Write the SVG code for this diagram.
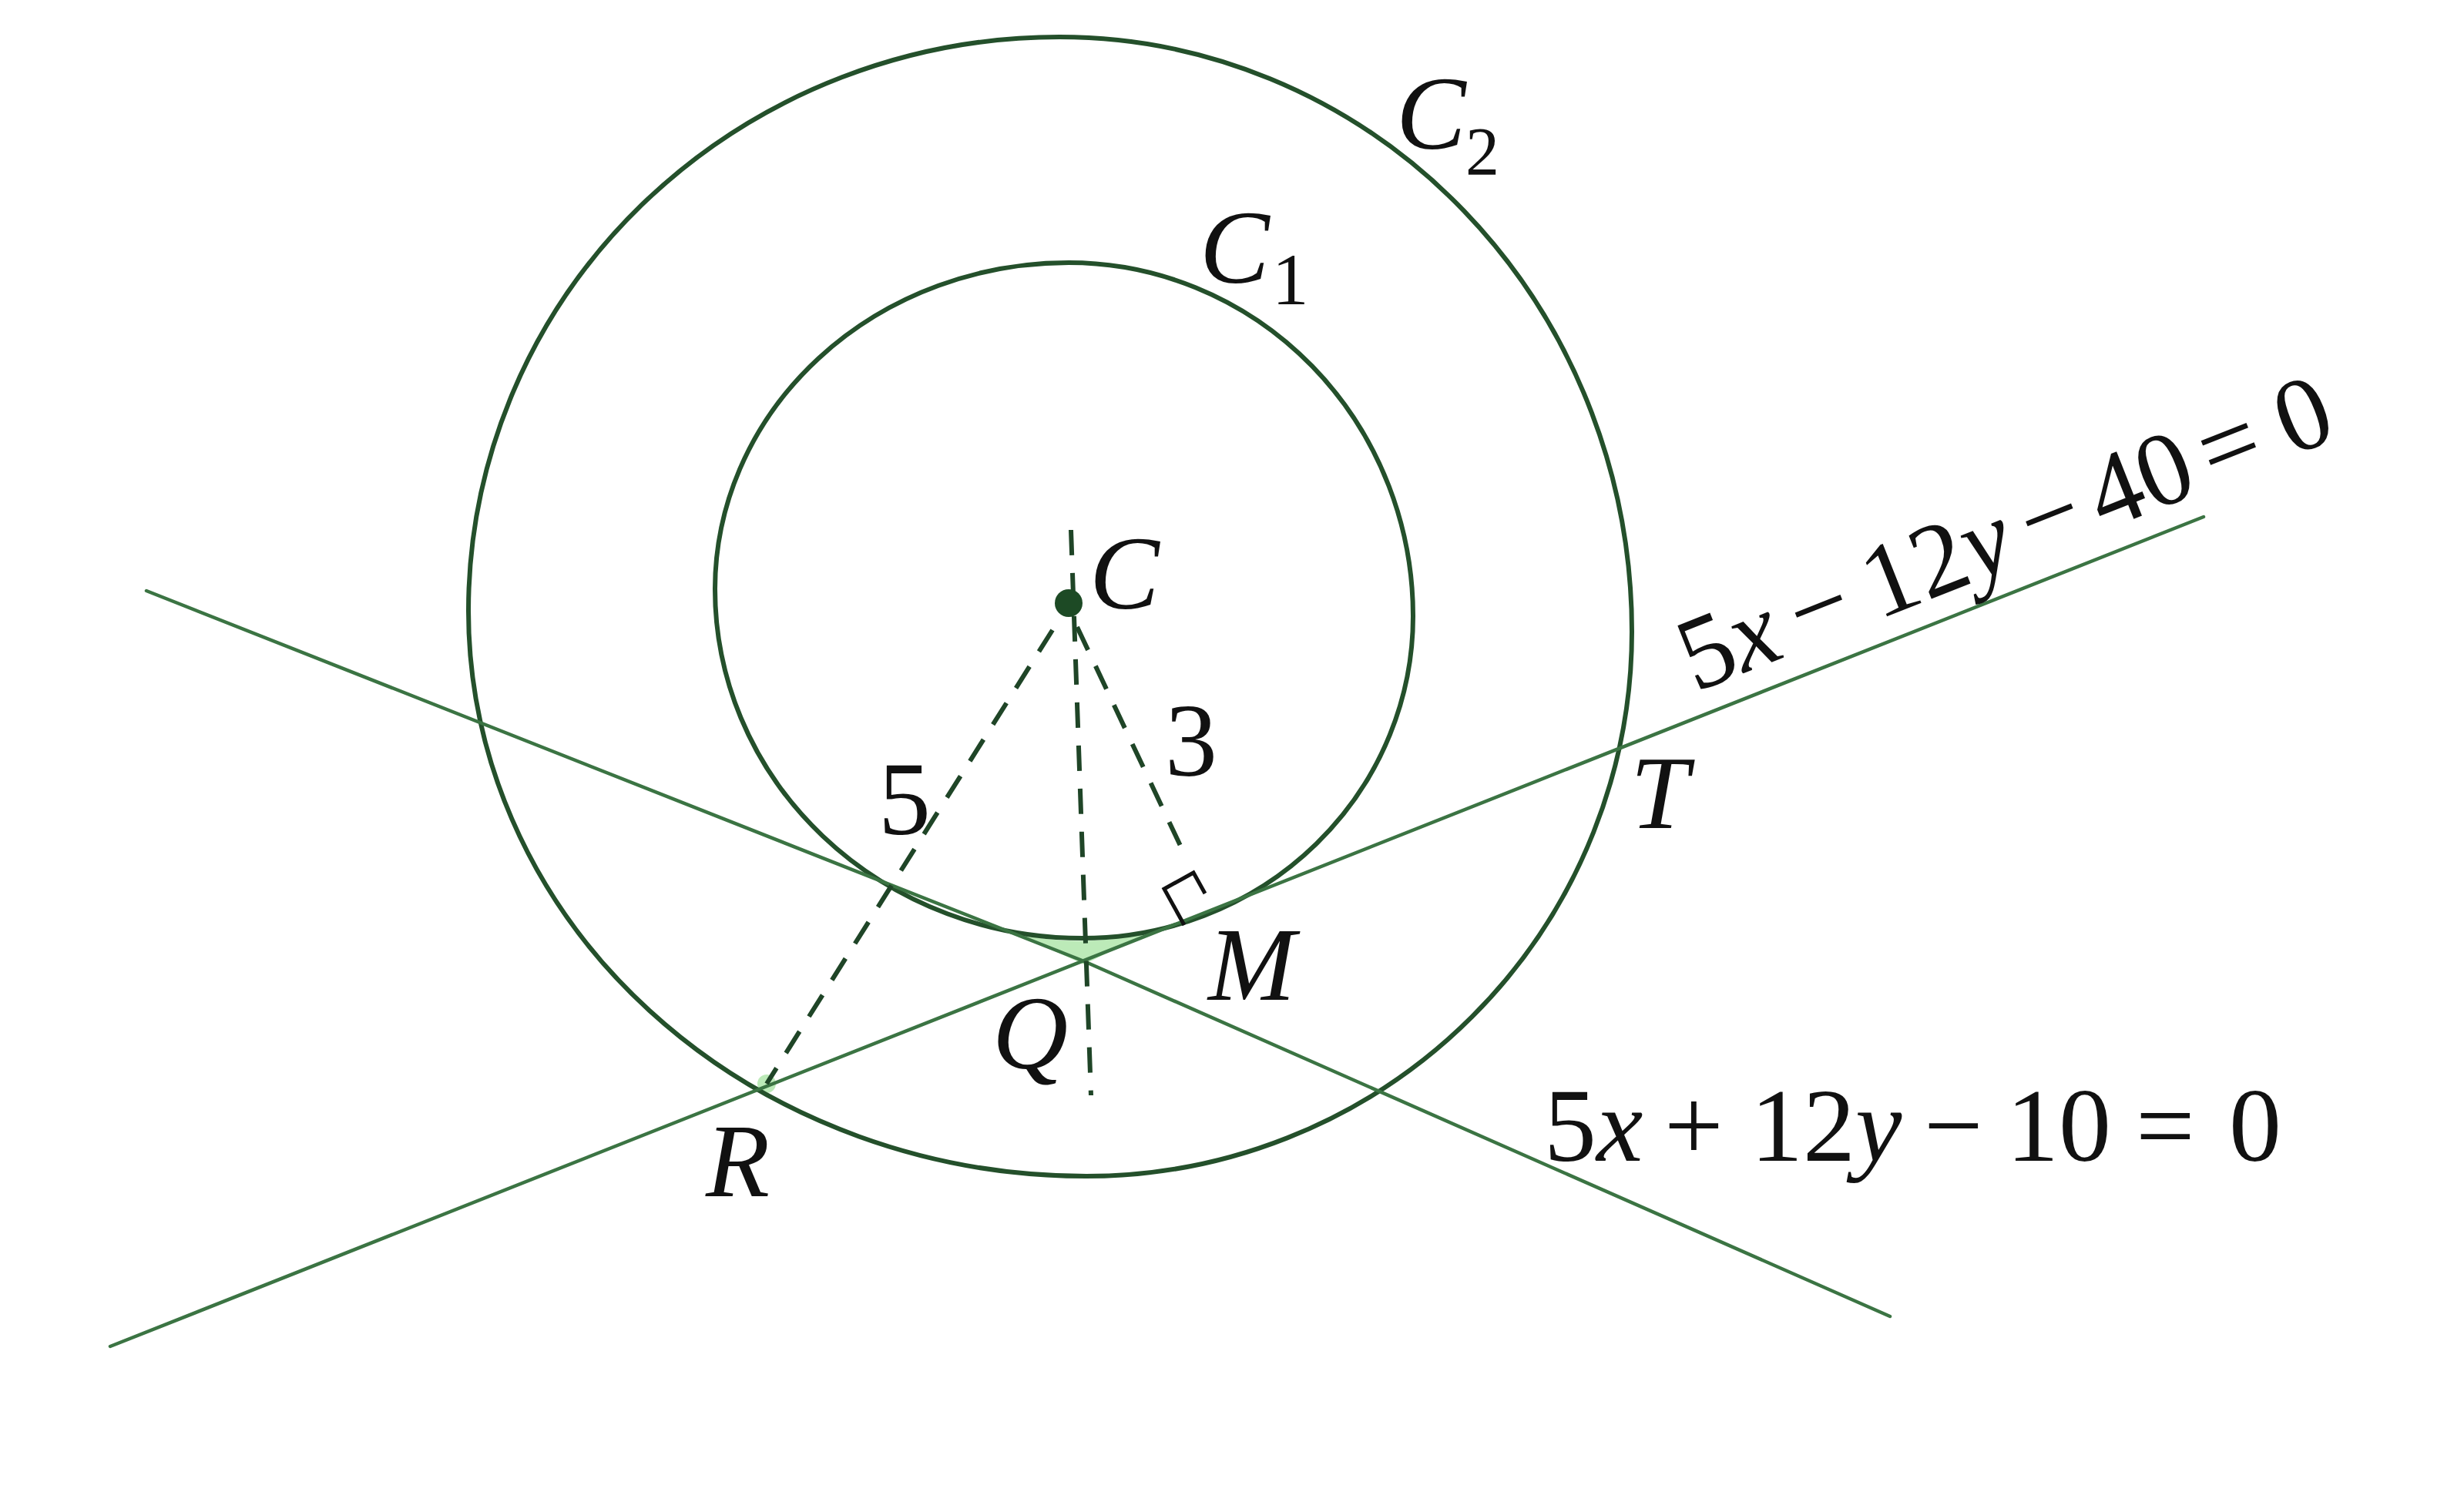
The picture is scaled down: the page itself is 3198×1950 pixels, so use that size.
<svg xmlns="http://www.w3.org/2000/svg" width="3198" height="1950" viewBox="0 0 3198 1950">
<style>
.circ{fill:none;stroke:#24502b;stroke-width:6}
.ln{fill:none;stroke:#3b7443;stroke-width:4.5;stroke-linecap:round;stroke-linejoin:round}
.dash{fill:none;stroke:#1f4527;stroke-width:6;stroke-dasharray:33 23}
.lbl{font-family:"Liberation Serif","Times New Roman",serif;fill:#111;font-size:136px}
.it{font-style:italic}
</style>
<rect width="3198" height="1950" fill="#ffffff"/>
<g id="glow" fill="#a6e3a0" opacity="0.75">
<path d="M1318,1212 Q1405,1232 1492,1210 L1407,1252 Z"/>
<circle cx="995" cy="1407" r="12"/>
</g>
<g id="circle-C2"><path class="circ" d="M1375,48 A743,772 0 0 1 2118,820 A708,707 0 0 1 1410,1527 A802,734 0 0 1 608,793 A767,745 0 0 1 1375,48 Z"/></g>
<g id="circle-C1"><path class="circ" d="M1387,341 A447,459 0 0 1 1834,800 A429,418 0 0 1 1405,1218 A477,453 0 0 1 928,765 A459,424 0 0 1 1387,341 Z"/></g>
<g id="line-1"><line class="ln" x1="143" y1="1748" x2="2860" y2="671"/></g>
<g id="line-2"><path class="ln" d="M190,767 L1407,1248 L2453,1709"/></g>
<g id="connectors">
<line class="dash" x1="1390" y1="688" x2="1416" y2="1422"/>
<line class="dash" x1="1366" y1="818" x2="995" y2="1407"/>
<line class="dash" x1="1398" y1="814" x2="1540" y2="1115"/>
<polyline points="1537,1201 1511,1154 1549,1133 1564,1160" fill="none" stroke="#111" stroke-width="5"/>
</g>
<g id="point-C"><circle cx="1387" cy="783" r="18" fill="#1d4a25"/></g>
<g id="labels">
<text class="lbl it" x="1414" y="790">C</text>
<text class="lbl" x="1140" y="1083" font-size="128">5</text>
<text class="lbl" x="1512" y="1007" font-size="130">3</text>
<text class="lbl it" x="1288" y="1387" font-size="138">Q</text>
<text class="lbl it" x="1568" y="1298">M</text>
<text class="lbl it" x="916" y="1553" font-size="132">R</text>
<text class="lbl it" x="2116" y="1075" font-size="132">T</text>
<text class="lbl it" x="1557" y="367">C<tspan font-style="normal" font-size="95" x="1651" y="395">1</tspan></text>
<text class="lbl it" x="1812" y="193">C<tspan font-style="normal" font-size="88" x="1902" y="226">2</tspan></text>
<text class="lbl" y="1507" font-size="139"><tspan x="2004">5<tspan class="it">x</tspan> </tspan><tspan x="2160">+ </tspan><tspan x="2272">12<tspan class="it">y</tspan> </tspan><tspan x="2497">− </tspan><tspan x="2604">10 </tspan><tspan x="2772">= </tspan><tspan x="2893">0</tspan></text>
<text class="lbl" font-size="139" transform="translate(2200,899) rotate(-21.6)"><tspan x="0" y="0">5<tspan class="it">x</tspan> </tspan><tspan x="152" y="0">− </tspan><tspan x="256" y="0">12<tspan class="it">y</tspan> </tspan><tspan x="474" y="0">− </tspan><tspan x="570" y="0">40 </tspan><tspan x="724" y="0">= </tspan><tspan x="832" y="0">0</tspan></text>
</g>
</svg>
